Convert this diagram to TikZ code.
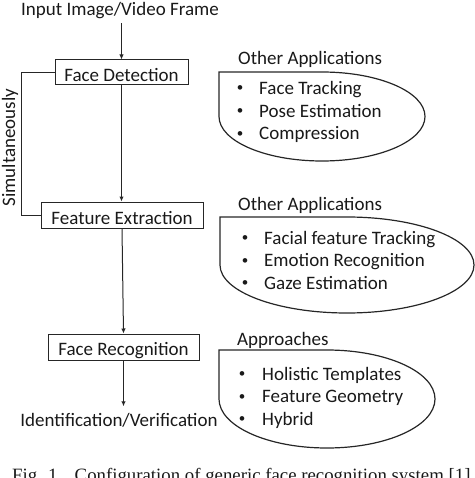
\documentclass[tikz,border=0pt]{standalone}
\usepackage{fontspec}
\setmainfont{Carlito}
\newfontfamily\capfont{Liberation Serif}
\usetikzlibrary{arrows.meta}
\begin{document}
\begin{tikzpicture}[x=1pt,y=-1pt,
  every node/.style={font=\fontsize{19}{23}\selectfont, text=black!90},
  stagebox/.style={draw=black!85, line width=1pt, inner xsep=0pt, inner ysep=0pt, anchor=base},
  lbl/.style={inner sep=0pt, anchor=base west},
  blt/.style={inner sep=0pt, anchor=center, font=\fontsize{13}{15}\selectfont},
  arr/.style={draw=black!85, line width=1pt, -{Latex[length=5pt,width=4.5pt]}},
  ln/.style={draw=black!85, line width=1pt},
  drop/.style={draw=black!85, line width=1.2pt}]
\useasboundingbox (0,0) rectangle (474,478);

% main chain
\node[inner xsep=0pt, inner ysep=4pt, anchor=base] (input) at (120,16) {Input Image/Video Frame};
\node[stagebox, minimum width=133pt, text height=21.7pt, text depth=2.6pt] (fd) at (121.5,81.7) {Face Detection};
\node[stagebox, minimum width=162pt, text height=22.3pt, text depth=3.7pt] (fe) at (122,224.3) {Feature Extraction};
\node[stagebox, minimum width=151pt, text height=21.7pt, text depth=4.3pt] (fr) at (123.5,355.7) {Face Recognition};
\node[inner xsep=0pt, inner ysep=7pt, anchor=base] (ident) at (119,426.7) {Identification/Verification};
\node[inner sep=0pt, anchor=base, rotate=90] (simul) at (15,147.5) {Simultaneously};

\draw[arr] (input.south -| fd.north) -- (fd.north);
\draw[arr] (fd.south) -- (fd.south |- fe.north);
\draw[arr] (fe.south) -- (fr.north);
\draw[arr] (fr.south) -- (fr.south |- ident.north);
\draw[ln] (fd.west) -- ++(-33,0) |- (fe.west);

% drop 1
\draw[drop] (322,72) arc[start angle=-90, end angle=180, x radius=103, y radius=44.5] -- (219,72) -- cycle;
\node[lbl] (oa1) at (238,65) {Other Applications};
\node[blt] (b11) at (240,89) {•};
\node[blt] (b12) at (240,112) {•};
\node[blt] (b13) at (240,134.7) {•};
\node[lbl] (t11) at (259,94.3) {Face Tracking};
\node[lbl] (t12) at (259,117.3) {Pose Estimation};
\node[lbl] (t13) at (259,140) {Compression};

% drop 2
\draw[drop] (347,217) arc[start angle=-90, end angle=180, x radius=127, y radius=48] -- (220,217) -- cycle;
\node[lbl] (oa2) at (238,210.7) {Other Applications};
\node[blt] (b21) at (245,238.7) {•};
\node[blt] (b22) at (245,261.4) {•};
\node[blt] (b23) at (245,283.7) {•};
\node[lbl] (t21) at (264,244) {Facial feature Tracking};
\node[lbl] (t22) at (264,266.7) {Emotion Recognition};
\node[lbl] (t23) at (264,289) {Gaze Estimation};

% drop 3
\draw[drop] (327,350) arc[start angle=-90, end angle=180, x radius=108, y radius=49] -- (219,350) -- cycle;
\node[lbl] (ap) at (237,345) {Approaches};
\node[blt] (b31) at (242,374.7) {•};
\node[blt] (b32) at (242,397.4) {•};
\node[blt] (b33) at (242,419.7) {•};
\node[lbl] (t31) at (262,380) {Holistic Templates};
\node[lbl] (t32) at (262,402.7) {Feature Geometry};
\node[lbl] (t33) at (262,425) {Hybrid};

% caption (cut off at the bottom edge, as in the reference)
\node[lbl, font=\capfont\fontsize{18.8}{22}\selectfont] (cap) at (12,481.5) {Fig. 1.\hspace{0.66em}Configuration of generic face recognition system [1]};
\end{tikzpicture}
\end{document}
